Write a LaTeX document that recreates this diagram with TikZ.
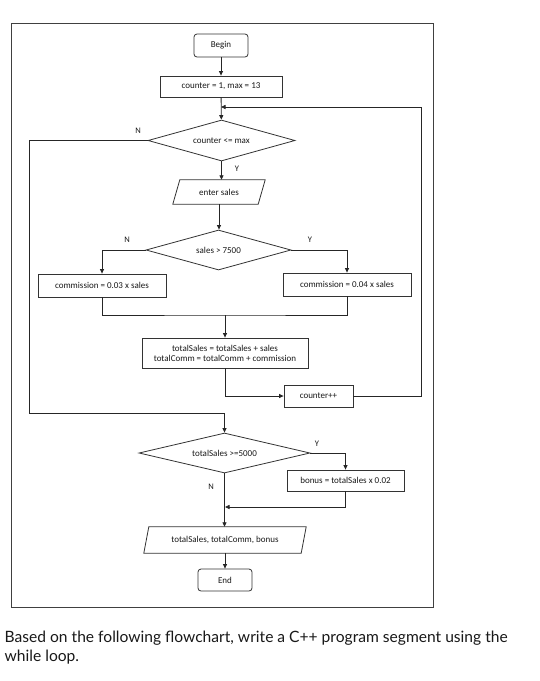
\documentclass[tikz,border=0pt]{standalone}
\usepackage{fontspec}
\setmainfont{Carlito}
\newfontfamily\capfont{Lato}
\usetikzlibrary{shapes.geometric,arrows.meta}
\begin{document}
\begin{tikzpicture}[x=1pt,y=-1pt,
  every node/.style={font=\fontsize{9}{10}\selectfont, text=black!90},
  proc/.style={draw=black!80, line width=0.8pt, rectangle, inner sep=0pt},
  term/.style={proc, rounded corners=3pt},
  dec/.style={draw=black!80, line width=0.8pt, diamond, aspect=3.6, inner sep=0pt},
  iobox/.style={rectangle, inner sep=0pt},
  iopath/.style={draw=black!80, line width=0.8pt},
  line/.style={draw=black!85, line width=0.8pt},
  arr/.style={line, -{Triangle[length=4.5pt,width=4pt]}},
  lbl/.style={font=\fontsize{8.5}{10}\selectfont}
]
\useasboundingbox (0,0) rectangle (540,681);
\fill[white] (0,0) rectangle (540,681);
\draw[black!75, line width=0.8pt] (11,23) rectangle (433,607);

\node[term, minimum width=54pt, minimum height=23pt] (begin) at (221,45.5) {Begin};
\node[proc, minimum width=122pt, minimum height=21pt] (init) at (221,86.5) {counter = 1, max = 13};
\node[dec, minimum width=147pt, minimum height=41pt] (dec1) at (221.5,140.5) {counter <= max};
\node[iobox, minimum width=85pt, minimum height=24pt] (in) at (219,192) {enter sales};
\draw[iopath] ([xshift=3.5pt]in.north west) -- ([xshift=3.5pt]in.north east) -- ([xshift=-3.5pt]in.south east) -- ([xshift=-3.5pt]in.south west) -- cycle;
\node[dec, minimum width=145pt, minimum height=40pt] (dec2) at (218.5,250) {sales > 7500};
\node[proc, minimum width=128pt, minimum height=23pt] (c3) at (102,285.5) {commission = 0.03 x sales};
\node[proc, minimum width=128pt, minimum height=23pt] (c4) at (347,284.5) {commission = 0.04 x sales};
\node[proc, minimum width=166pt, minimum height=30pt, align=center] (tot) at (225,353) {totalSales = totalSales + sales\\totalComm = totalComm + commission};
\node[proc, minimum width=69pt, minimum height=22pt] (inc) at (318.5,396) {counter++};
\node[dec, minimum width=171pt, minimum height=40pt] (dec3) at (224.5,453) {totalSales >=5000};
\node[proc, minimum width=117pt, minimum height=21pt] (bonus) at (345.5,480.5) {bonus = totalSales x 0.02};
\node[iobox, minimum width=157pt, minimum height=26pt] (out) at (225,540) {totalSales, totalComm, bonus};
\draw[iopath] ([xshift=2.5pt]out.north west) -- ([xshift=2.5pt]out.north east) -- ([xshift=-2.5pt]out.south east) -- ([xshift=-2.5pt]out.south west) -- cycle;
\node[term, minimum width=54pt, minimum height=22pt] (end) at (225,580) {End};

\coordinate (lr) at (421,107);
\coordinate (nl) at (29,413);
\coordinate (m) at (225,315);
\coordinate (j) at (225,507);

\draw[arr] (begin) -- (init);
\draw[arr] (init) -- (dec1);
\draw[arr] (inc.east) -| (lr) -- (init.south |- lr);
\draw[arr] (dec1.west) -| (nl) -| (dec3.north);
\draw[arr] (dec1.south) -- (dec1.south |- in.north);
\draw[arr] (in.south) -- (in.south |- dec2.north);
\draw[arr] (dec2.west) -| (c3.north);
\draw[arr] (dec2.east) -| (c4.north);
\draw[line] (c3.south) |- (m) -| (c4.south);
\draw[arr] (m) -- (tot.north);
\draw[arr] (tot.south) |- (inc.west);
\draw[arr] (dec3.east) -| (bonus.north);
\draw[arr] (bonus.south) |- (j);
\draw[arr] (dec3.south) -- (dec3.south |- out.north);
\draw[arr] (out) -- (end);

\node[lbl] (n1) at (138,131) {N};
\node[lbl] (y1) at (237,169) {Y};
\node[lbl] (n2) at (127,240) {N};
\node[lbl] (y2) at (310,240) {Y};
\node[lbl] (y3) at (317,444) {Y};
\node[lbl] (n3) at (211,487) {N};

\node[anchor=base west, inner sep=0pt, font=\capfont\fontsize{15.6}{19}\selectfont, text=black!90] (q1) at (4.5,642) {Based on the following flowchart, write a C++ program segment using the};
\node[anchor=base west, inner sep=0pt, font=\capfont\fontsize{15.6}{19}\selectfont, text=black!90] (q2) at (4.5,661) {while loop.};
\end{tikzpicture}
\end{document}
